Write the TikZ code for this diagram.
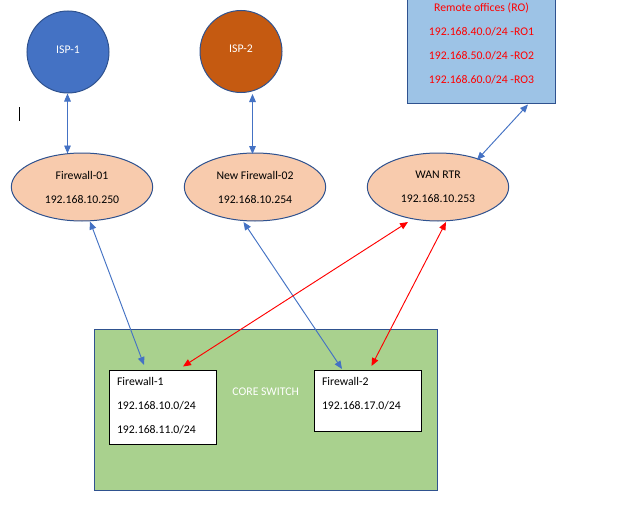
\documentclass[tikz,border=0pt]{standalone}
\usepackage{fontspec}
\setmainfont{Carlito}
\usetikzlibrary{arrows.meta}
\usetikzlibrary{shapes.geometric}
\definecolor{edgeblue}{HTML}{2F528F}
\definecolor{linkblue}{HTML}{4472C4}
\definecolor{ispone}{HTML}{4472C4}
\definecolor{isptwo}{HTML}{C55A11}
\definecolor{peach}{HTML}{F8CBAD}
\definecolor{sky}{HTML}{9DC3E6}
\definecolor{leaf}{HTML}{A9D18E}
\newcommand{\boxtext}[3]{\parbox[c][#1][t]{80.25pt}{\fontsize{8.8pt}{18pt}\selectfont\vspace*{5.6pt}\hspace*{6pt}\ignorespaces#2\par\hspace*{6pt}#3}}
\tikzset{
  every node/.style={font=\fontsize{8.8pt}{18pt}\selectfont,inner sep=0pt,outer sep=0pt},
  ispnode/.style={circle,draw=edgeblue,line width=0.75pt,minimum size=61.5pt,text=white},
  fwnode/.style={ellipse,draw=edgeblue,fill=peach,line width=0.75pt,minimum width=106pt,minimum height=51pt,align=center},
  subnet/.style={rectangle,draw=black,fill=white,line width=0.75pt,minimum width=79.75pt},
  bluelink/.style={draw=linkblue,line width=0.7pt,{Triangle[length=6pt,width=5pt]}-{Triangle[length=6pt,width=5pt]}},
  redlink/.style={draw=red,line width=0.7pt,{Triangle[length=6pt,width=5pt]}-{Triangle[length=6pt,width=5pt]}},
}
\begin{document}
\begin{tikzpicture}[x=0.75pt,y=-0.75pt]
\useasboundingbox (0,0) rectangle (624,510);
\clip (0,0) rectangle (624,510);
\fill[white] (0,0) rectangle (624,510);
% upper row
\node[ispnode,fill=ispone] (isp1) at (68,52) {\raisebox{3.5pt}{ISP-1}};
\node[ispnode,fill=isptwo] (isp2) at (241,51.5) {\raisebox{3.5pt}{ISP-2}};
\node[fwnode] (fw01) at (82,187) {Firewall-01\\192.168.10.250};
\node[fwnode] (fw02) at (255,187) {New Firewall-02\\192.168.10.254};
\node[fwnode] (wan) at (438,187) {WAN RTR\\192.168.10.253};
\node[rectangle,draw=edgeblue,fill=sky,line width=0.75pt,minimum width=110.6pt,minimum height=90pt,align=center,text=red] (ro) at (481.5,43) {Remote offices (RO)\\192.168.40.0/24 -RO1\\192.168.50.0/24 -RO2\\192.168.60.0/24 -RO3};
% core switch
\node[rectangle,draw=edgeblue,fill=leaf,line width=0.75pt,minimum width=257.75pt,minimum height=120.75pt,text=white] (core) at (266,409.5) {\raisebox{26pt}{\hspace*{-0.5pt}CORE SWITCH}};
\node[subnet,minimum height=55.75pt] (fw1) at (162.5,407.5) {\boxtext{55.75pt}{Firewall-1}{192.168.10.0/24\par\hspace*{6pt}192.168.11.0/24}};
\node[subnet,minimum height=46pt] (fw2) at (367.5,401) {\boxtext{46pt}{Firewall-2}{192.168.17.0/24}};
% connector ends
\coordinate (a1) at (67.5,93.5);
\coordinate (a2) at (67.5,153.5);
\coordinate (b1) at (252.5,94);
\coordinate (b2) at (252.5,154);
\coordinate (c1) at (528,104.5);
\coordinate (c2) at (477,160);
\coordinate (d1) at (90,221.5);
\coordinate (d2) at (144,365);
\coordinate (e1) at (243.5,222);
\coordinate (e2) at (342,369);
\coordinate (f1) at (408,222);
\coordinate (f2) at (183,366.5);
\coordinate (g1) at (446,222);
\coordinate (g2) at (371.5,366);
\draw[bluelink] (a1) -- (a2);
\draw[bluelink] (b1) -- (b2);
\draw[bluelink] (c1) -- (c2);
\draw[bluelink] (d1) -- (d2);
\draw[bluelink] (e1) -- (e2);
\draw[redlink] (f1) -- (f2);
\draw[redlink] (g1) -- (g2);
% text cursor
\draw[black,line width=0.75pt] (19.5,107) -- (19.5,121);
\end{tikzpicture}
\end{document}
